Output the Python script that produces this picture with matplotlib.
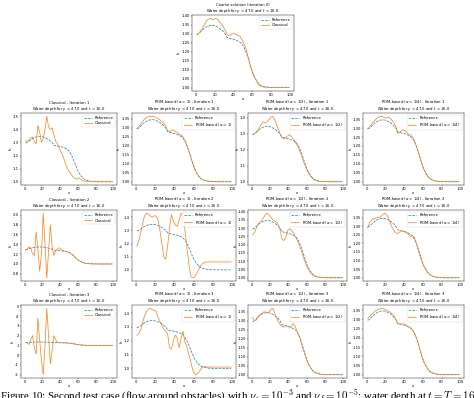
import matplotlib
matplotlib.use("Agg")
import matplotlib.pyplot as plt
import numpy as np

W, H = 474, 398
x = [1, 3, 5, 7, 9, 11, 13, 15, 17, 19,
     21, 23, 25, 27, 29, 31, 33, 35, 37, 39,
     41, 43, 45, 47, 49, 51, 53, 55, 57, 59,
     61, 63, 65, 67, 69, 71, 73, 75, 77, 79,
     81, 83, 85, 87, 89, 91, 93, 95, 97, 99]

reference = [1.295, 1.300, 1.310, 1.320, 1.330, 1.337, 1.342, 1.345, 1.346, 1.345,
             1.342, 1.337, 1.330, 1.322, 1.312, 1.300, 1.280, 1.275, 1.273, 1.270,
             1.268, 1.263, 1.258, 1.252, 1.243, 1.225, 1.200, 1.170, 1.135, 1.100,
             1.070, 1.050, 1.033, 1.020, 1.012, 1.008, 1.005, 1.003, 1.002, 1.001,
             1.001, 1.000, 1.000, 1.000, 1.000, 1.000, 1.000, 1.000, 1.000, 1.000]

coarse_it0 = [1.295, 1.300, 1.315, 1.330, 1.350, 1.370, 1.380, 1.385, 1.380, 1.380,
              1.385, 1.380, 1.365, 1.355, 1.340, 1.320, 1.295, 1.290, 1.295, 1.300,
              1.300, 1.295, 1.290, 1.285, 1.265, 1.245, 1.220, 1.180, 1.140, 1.100,
              1.075, 1.050, 1.030, 1.015, 1.008, 1.004, 1.002, 1.001, 1.000, 1.000,
              1.000, 1.000, 1.000, 1.000, 1.000, 1.000, 1.000, 1.000, 1.000, 1.000]

classical_it1 = [1.310, 1.310, 1.320, 1.335, 1.340, 1.310, 1.290, 1.430, 1.380, 1.300,
                 1.330, 1.400, 1.500, 1.420, 1.400, 1.410, 1.360, 1.310, 1.290, 1.260,
                 1.230, 1.200, 1.160, 1.120, 1.090, 1.070, 1.050, 1.035, 1.025, 1.020,
                 1.030, 1.020, 1.010, 1.005, 1.003, 1.001, 1.000, 1.000, 1.000, 1.000,
                 1.000, 1.000, 1.000, 1.000, 1.000, 1.000, 1.000, 1.000, 1.000, 1.000]

rom1_it1 = [1.295, 1.305, 1.320, 1.335, 1.350, 1.358, 1.363, 1.365, 1.364, 1.362,
            1.358, 1.352, 1.345, 1.335, 1.325, 1.310, 1.285, 1.280, 1.285, 1.290,
            1.280, 1.275, 1.265, 1.260, 1.250, 1.230, 1.205, 1.175, 1.140, 1.105,
            1.075, 1.050, 1.033, 1.020, 1.012, 1.008, 1.005, 1.003, 1.002, 1.001,
            1.001, 1.000, 1.000, 1.000, 1.000, 1.000, 1.000, 1.000, 1.000, 1.000]

rom2_it1 = [1.295, 1.300, 1.310, 1.325, 1.345, 1.365, 1.375, 1.370, 1.375, 1.390,
            1.405, 1.410, 1.390, 1.360, 1.330, 1.300, 1.275, 1.270, 1.275, 1.285,
            1.295, 1.285, 1.270, 1.255, 1.235, 1.215, 1.185, 1.155, 1.120, 1.090,
            1.065, 1.045, 1.030, 1.018, 1.010, 1.006, 1.003, 1.002, 1.001, 1.000,
            1.000, 1.000, 1.000, 1.000, 1.000, 1.000, 1.000, 1.000, 1.000, 1.000]

rom4_it1 = [1.295, 1.305, 1.320, 1.335, 1.345, 1.355, 1.362, 1.366, 1.364, 1.358,
            1.356, 1.360, 1.355, 1.345, 1.330, 1.310, 1.270, 1.275, 1.285, 1.290,
            1.285, 1.275, 1.265, 1.262, 1.250, 1.230, 1.200, 1.170, 1.135, 1.100,
            1.070, 1.050, 1.033, 1.020, 1.012, 1.008, 1.005, 1.003, 1.002, 1.001,
            1.001, 1.000, 1.000, 1.000, 1.000, 1.000, 1.000, 1.000, 1.000, 1.000]

classical_it2 = [1.280, 1.300, 1.350, 1.320, 1.200, 1.170, 1.650, 1.300, 0.850, 1.200,
                 2.030, 1.400, 0.720, 1.250, 1.800, 1.350, 1.170, 1.270, 1.300, 1.330,
                 1.300, 1.270, 1.260, 1.250, 1.240, 1.222, 1.200, 1.170, 1.135, 1.100,
                 1.070, 1.050, 1.033, 1.020, 1.012, 1.008, 1.005, 1.003, 1.002, 1.001,
                 1.001, 1.000, 1.000, 1.000, 1.000, 1.000, 1.000, 1.000, 1.000, 1.000]

rom1_it2 = [1.180, 1.220, 1.280, 1.350, 1.410, 1.430, 1.425, 1.410, 1.400, 1.410,
            1.410, 1.380, 1.300, 1.200, 1.100, 1.080, 1.180, 1.320, 1.420, 1.370,
            1.340, 1.330, 1.380, 1.430, 1.410, 1.300, 1.170, 1.050, 0.950, 0.940,
            0.945, 0.970, 1.000, 1.030, 1.045, 1.055, 1.060, 1.060, 1.060, 1.060,
            1.060, 1.060, 1.060, 1.060, 1.060, 1.060, 1.060, 1.060, 1.060, 1.060]

rom2_it2 = [1.260, 1.270, 1.300, 1.325, 1.335, 1.345, 1.365, 1.380, 1.390, 1.380,
            1.365, 1.350, 1.345, 1.335, 1.320, 1.290, 1.235, 1.225, 1.240, 1.285,
            1.295, 1.290, 1.275, 1.255, 1.235, 1.210, 1.180, 1.150, 1.115, 1.085,
            1.060, 1.040, 1.025, 1.015, 1.008, 1.005, 1.003, 1.002, 1.001, 1.000,
            1.000, 1.000, 1.000, 1.000, 1.000, 1.000, 1.000, 1.000, 1.000, 1.000]

rom4_it2 = [1.290, 1.320, 1.335, 1.340, 1.345, 1.350, 1.350, 1.355, 1.365, 1.375,
            1.370, 1.350, 1.320, 1.295, 1.275, 1.260, 1.255, 1.265, 1.275, 1.270,
            1.265, 1.260, 1.250, 1.240, 1.245, 1.235, 1.200, 1.160, 1.125, 1.095,
            1.068, 1.048, 1.032, 1.020, 1.012, 1.008, 1.005, 1.003, 1.002, 1.001,
            1.001, 1.000, 1.000, 1.000, 1.000, 1.000, 1.000, 1.000, 1.000, 1.000]

classical_it3 = [1.300, 1.250, 1.100, 1.600, 2.000, 0.800, 0.100, 3.800, 1.500, -0.500,
                 -2.000, 1.000, 4.800, 2.000, -0.900, 0.500, 2.000, 1.600, 1.300, 1.300,
                 1.300, 1.263, 1.258, 1.252, 1.243, 1.225, 1.200, 1.170, 1.135, 1.100,
                 1.070, 1.050, 1.033, 1.020, 1.012, 1.008, 1.005, 1.003, 1.002, 1.001,
                 1.001, 1.000, 1.000, 1.000, 1.000, 1.000, 1.000, 1.000, 1.000, 1.000]

rom1_it3 = [1.240, 1.250, 1.280, 1.330, 1.380, 1.410, 1.430, 1.435, 1.425, 1.420,
            1.415, 1.370, 1.340, 1.310, 1.285, 1.270, 1.250, 1.150, 1.140, 1.200,
            1.240, 1.220, 1.150, 1.220, 1.270, 1.190, 1.160, 1.100, 1.050, 0.990,
            0.960, 0.955, 0.970, 0.990, 1.010, 1.015, 1.010, 1.010, 1.010, 1.010,
            1.010, 1.010, 1.010, 1.010, 1.010, 1.010, 1.010, 1.010, 1.010, 1.010]

rom2_it3 = [1.320, 1.300, 1.305, 1.325, 1.335, 1.340, 1.350, 1.350, 1.345, 1.350,
            1.365, 1.370, 1.345, 1.320, 1.295, 1.280, 1.270, 1.265, 1.275, 1.270,
            1.265, 1.265, 1.285, 1.275, 1.250, 1.225, 1.200, 1.160, 1.130, 1.100,
            1.070, 1.050, 1.033, 1.020, 1.012, 1.008, 1.005, 1.003, 1.002, 1.001,
            1.001, 1.000, 1.000, 1.000, 1.000, 1.000, 1.000, 1.000, 1.000, 1.000]

rom4_it3 = [1.305, 1.315, 1.325, 1.335, 1.345, 1.350, 1.355, 1.360, 1.360, 1.355,
            1.350, 1.345, 1.340, 1.330, 1.320, 1.300, 1.275, 1.275, 1.275, 1.275,
            1.275, 1.265, 1.260, 1.253, 1.243, 1.225, 1.200, 1.170, 1.135, 1.100,
            1.070, 1.050, 1.033, 1.020, 1.012, 1.008, 1.005, 1.003, 1.002, 1.001,
            1.001, 1.000, 1.000, 1.000, 1.000, 1.000, 1.000, 1.000, 1.000, 1.000]

panels = [
    ("Coarse solution (iteration 0)", "Classical", coarse_it0, [1.00, 1.05, 1.10, 1.15, 1.20, 1.25, 1.30, 1.35, 1.40], "%.2f"),
    ("Classical - Iteration 1", "Classical", classical_it1, [1.0, 1.1, 1.2, 1.3, 1.4, 1.5], "%.1f"),
    (r"ROM-based ($\alpha$ = 1) - Iteration 1", r"ROM-based ($\alpha$ = 1)", rom1_it1, [1.00, 1.05, 1.10, 1.15, 1.20, 1.25, 1.30, 1.35], "%.2f"),
    (r"ROM-based ($\alpha$ = 1/2) - Iteration 1", r"ROM-based ($\alpha$ = 1/2)", rom2_it1, [1.0, 1.1, 1.2, 1.3, 1.4], "%.1f"),
    (r"ROM-based ($\alpha$ = 1/4) - Iteration 1", r"ROM-based ($\alpha$ = 1/4)", rom4_it1, [1.00, 1.05, 1.10, 1.15, 1.20, 1.25, 1.30, 1.35], "%.2f"),
    ("Classical - Iteration 2", "Classical", classical_it2, [0.8, 1.0, 1.2, 1.4, 1.6, 1.8, 2.0], "%.1f"),
    (r"ROM-based ($\alpha$ = 1) - Iteration 2", r"ROM-based ($\alpha$ = 1)", rom1_it2, [1.0, 1.1, 1.2, 1.3, 1.4], "%.1f"),
    (r"ROM-based ($\alpha$ = 1/2) - Iteration 2", r"ROM-based ($\alpha$ = 1/2)", rom2_it2, [1.00, 1.05, 1.10, 1.15, 1.20, 1.25, 1.30, 1.35, 1.40], "%.2f"),
    (r"ROM-based ($\alpha$ = 1/4) - Iteration 2", r"ROM-based ($\alpha$ = 1/4)", rom4_it2, [1.00, 1.05, 1.10, 1.15, 1.20, 1.25, 1.30, 1.35], "%.2f"),
    ("Classical - Iteration 3", "Classical", classical_it3, [-2, -1, 0, 1, 2, 3, 4, 5], "%d"),
    (r"ROM-based ($\alpha$ = 1) - Iteration 3", r"ROM-based ($\alpha$ = 1)", rom1_it3, [1.0, 1.1, 1.2, 1.3, 1.4], "%.1f"),
    (r"ROM-based ($\alpha$ = 1/2) - Iteration 3", r"ROM-based ($\alpha$ = 1/2)", rom2_it3, [1.00, 1.05, 1.10, 1.15, 1.20, 1.25, 1.30, 1.35], "%.2f"),
    (r"ROM-based ($\alpha$ = 1/4) - Iteration 3", r"ROM-based ($\alpha$ = 1/4)", rom4_it3, [1.00, 1.05, 1.10, 1.15, 1.20, 1.25, 1.30, 1.35], "%.2f"),
]

caption = (r"Figure 10: Second test case (flow around obstacles) with $\nu_c = 10^{-3}$ and "
           r"$\nu_f = 10^{-5}$: water depth at $t = T = 16$")

# pixel boxes (left, top, right, bottom)
cols = [(21, 117), (132, 236), (248, 347), (363, 464)]
rows = [(113, 185), (210, 281), (305, 378)]
boxes = [(192, 15, 294, 91)]
for (t, b) in rows:
    for (l, r) in cols:
        boxes.append((l, t, r, b))

plt.rcParams["mathtext.fontset"] = "dejavusans"
fig = plt.figure(figsize=(W / 100, H / 100), dpi=100)
fs = 2.7
for (title, lab, ydata, yt, fmt), (l, t, r, b) in zip(panels, boxes):
    ax = fig.add_axes([l / W, 1 - b / H, (r - l) / W, (b - t) / H])
    ax.plot(x, reference, color="#1f77b4", ls="--", lw=0.5, label="Reference")
    ax.plot(x, ydata, color="#ff7f0e", ls="-", lw=0.5, label=lab)
    ax.set_xlim(-4, 104)
    ax.set_xticks([0, 20, 40, 60, 80, 100])
    ax.set_yticks(yt)
    ax.yaxis.set_major_formatter(matplotlib.ticker.FormatStrFormatter(fmt))
    ax.tick_params(labelsize=fs, length=1.0, width=0.3, pad=0.7)
    for s in ax.spines.values():
        s.set_linewidth(0.3)
    ax.set_title(title + "\n" + r"Water depth for $y$ = 47.0 and $t$ = 16.0",
                 fontsize=fs, pad=0.6, linespacing=1.0)
    ax.set_xlabel("x", fontsize=fs, labelpad=0.0)
    ax.set_ylabel("h", fontsize=fs, labelpad=0.1)
    ax.legend(loc="upper right", fontsize=fs, frameon=True, framealpha=0.8,
              edgecolor="#cccccc", handlelength=2.2, borderpad=0.4,
              labelspacing=0.3, fancybox=True).get_frame().set_linewidth(0.3)

cap = fig.text(0.0, 1 - 388 / H, caption, ha="left", va="top", fontsize=9.0,
               family="Liberation Serif", math_fontfamily="cm")
fig.canvas.draw()
wpx = cap.get_window_extent().width
cap.set_fontsize(9.0 * 476 / wpx)

fig.savefig("out.png", dpi=100)
